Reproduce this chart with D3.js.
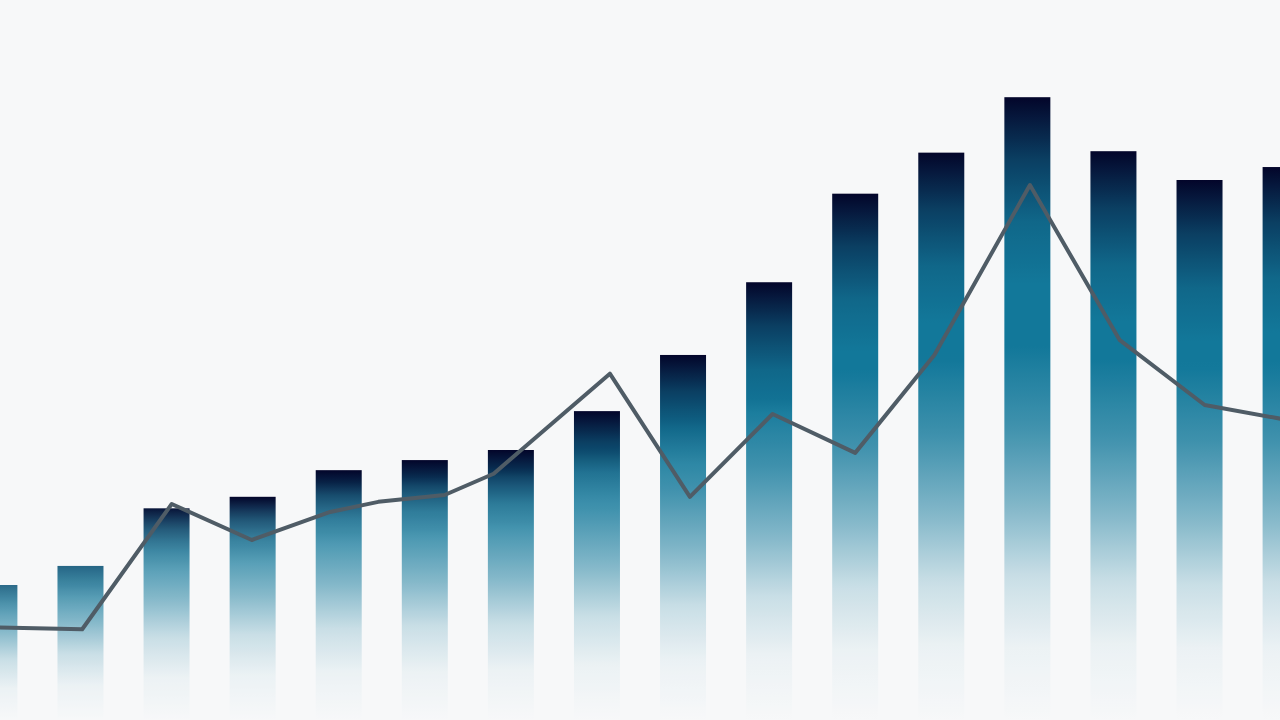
<!DOCTYPE html>
<html><head><meta charset="utf-8">
<script src="https://cdn.jsdelivr.net/npm/d3@7"></script>
<style>html,body{margin:0;padding:0;background:#f7f8f9;overflow:hidden}</style>
</head><body>
<svg id="c" width="1280" height="720"></svg>
<script>
const barIndex = [0,1,2,3,4,5,6,7,8,9,10,11,12,13,14,15];
const barValues = [18.75,21.4,29.4,31,34.7,36.1,37.5,42.9,50.7,60.8,73.1,78.8,86.5,79,75,76.8];
const lineX = [-0.1,1.02,2.06,2.99,3.9,4.46,5.23,5.8,7.15,8.08,9.04,10.0,10.92,12.03,13.07,14.06,15.1];
const lineValues = [12.9,12.6,30,25,28.9,30.3,31.25,34.2,48.1,31,42.5,37.1,50.7,74.3,52.8,43.75,41.5];

const W = 1280, H = 720, barW = 46;
const svg = d3.select('#c');
const x = d3.scaleLinear().domain([0,15]).range([-5.6, 1285.6]);
const y = d3.scaleLinear().domain([0,100]).range([H, 0]);
const yTallest = y(d3.max(barValues));

svg.append('rect').attr('width',W).attr('height',H).attr('fill','#f7f8f9');
const defs = svg.append('defs');

const dark = '#03052a', teal = '#12789a', bg = '#f7f8f9';
const darkness = d3.scaleLinear().domain([0,0.05,0.1,0.2,0.3]).range([1,0.75,0.5,0.15,0]).clamp(true);
const fadeW = d3.scaleLinear().domain([0.4,0.53,0.66,0.77,0.88,1]).range([0,0.2,0.5,0.8,0.95,1]).clamp(true);

barValues.forEach((v,i)=>{
  const top = y(v), h = H - top;
  const amp = Math.max(0.35, Math.min(1, (h-120)/100));
  const g = defs.append('linearGradient').attr('id','bg'+i)
    .attr('gradientUnits','userSpaceOnUse').attr('x1',0).attr('x2',0).attr('y1',top).attr('y2',H);
  for (let k=0;k<=60;k++){
    const u = k/60, yy = top + u*h;
    const a = (yy - yTallest)/(H - yTallest);
    const s = 0.38*u + 0.62*a;
    const w = fadeW(s);
    const dk = amp * darkness(u) * Math.max(0, 1 - w);
    const base = d3.interpolateRgb(teal, dark)(dk);
    const col = d3.interpolateRgb(base, bg)(w);
    g.append('stop').attr('offset',u).attr('stop-color',col);
  }
});

svg.append('g').selectAll('rect').data(barIndex).join('rect')
  .attr('x', i=>x(i)-barW/2).attr('width', barW)
  .attr('y', i=>y(barValues[i])).attr('height', i=>H - y(barValues[i]))
  .attr('fill', i=>'url(#bg'+i+')');

const line = d3.line().x(d=>x(d[0])).y(d=>y(d[1]));
svg.append('path').datum(lineX.map((d,i)=>[d,lineValues[i]]))
  .attr('d', line).attr('fill','none').attr('stroke','#4f5c66')
  .attr('stroke-width',4).attr('stroke-linejoin','round');
</script>
</body></html>
